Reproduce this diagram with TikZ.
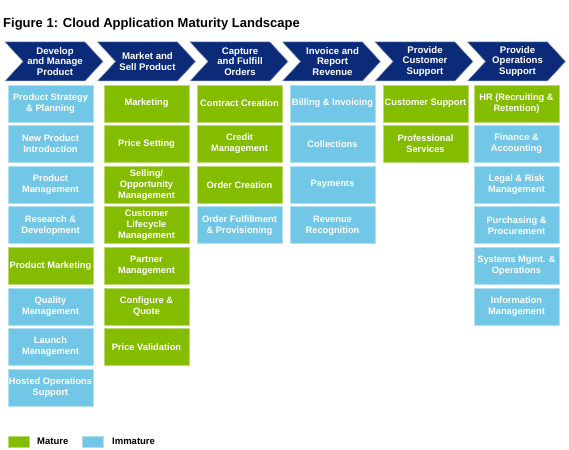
\documentclass[tikz,border=0pt]{standalone}
\usepackage{fontspec}
\setmainfont{Liberation Sans}
\usetikzlibrary{positioning}
\definecolor{navy}{HTML}{0B2A78}
\definecolor{mature}{HTML}{84BC00}
\definecolor{immature}{HTML}{72C7E7}
\newcommand{\phase}[3]{\fill[navy,draw=navy!45!white,line width=.5pt] (#2,42)--(#2+80,42)--(#2+98,61.5)--(#2+80,81)--(#2,81)--(#2+18,61.5)--cycle;
\node[phasetext] (#1) at (#2+50,61.5){#3};}

\begin{document}
\begin{tikzpicture}[x=1pt,y=-1pt,
  phasetext/.style={text=white,font=\fontsize{9.6}{10.6}\selectfont\bfseries,align=center,inner sep=0},
  cell/.style={anchor=north west,fill=#1,draw=#1!55!white,line width=.8pt,outer sep=0,inner sep=0,
    minimum width=85pt,minimum height=37pt,text=white,font=\fontsize{9.3}{11}\selectfont\bfseries,align=center},
  key/.style={fill=#1,draw=#1!55!white,line width=.6pt,minimum width=21pt,minimum height=11pt,inner sep=0,outer sep=0,anchor=north west},
  keytext/.style={font=\fontsize{9.5}{11}\selectfont\bfseries,inner sep=0}]
\useasboundingbox (0,0) rectangle (569,449);
\node[anchor=base west,inner sep=0,font=\fontsize{13}{15}\selectfont\bfseries] (title) at (3,28){Figure 1: Cloud Application Maturity Landscape};
% phases
\phase{ph1}{5}{Develop\\and Manage\\Product}
\phase{ph2}{97.5}{Market and\\Sell Product}
\phase{ph3}{190}{Capture\\and Fulfill\\Orders}
\phase{ph4}{282.5}{Invoice and\\Report\\Revenue}
\phase{ph5}{375}{Provide\\Customer\\Support}
\phase{ph6}{467.5}{Provide\\Operations\\Support}
% develop and manage product
\node[cell=immature] (dev1) at (8,85){Product Strategy\\\& Planning};
\node[cell=immature] (dev2) at (8,125.6){New Product\\Introduction};
\node[cell=immature] (dev3) at (8,166.2){Product\\Management};
\node[cell=immature] (dev4) at (8,206.8){Research \&\\Development};
\node[cell=mature] (dev5) at (8,247.4){Product Marketing};
\node[cell=immature] (dev6) at (8,288){Quality\\Management};
\node[cell=immature] (dev7) at (8,328.6){Launch\\Management};
\node[cell=immature] (dev8) at (8,369.2){Hosted Operations\\Support};
% market and sell
\node[cell=mature] (mkt1) at (104,85){Marketing};
\node[cell=mature] (mkt2) at (104,125.6){Price Setting};
\node[cell=mature] (mkt3) at (104,166.2){Selling/\\Opportunity\\Management};
\node[cell=mature] (mkt4) at (104,206.8){Customer\\Lifecycle\\Management};
\node[cell=mature] (mkt5) at (104,247.4){Partner\\Management};
\node[cell=mature] (mkt6) at (104,288){Configure \&\\Quote};
\node[cell=mature] (mkt7) at (104,328.6){Price Validation};
% capture and fulfill
\node[cell=mature] (ord1) at (197,85){Contract Creation};
\node[cell=mature] (ord2) at (197,125.6){Credit\\Management};
\node[cell=mature] (ord3) at (197,166.2){Order Creation};
\node[cell=immature] (ord4) at (197,206.8){Order Fulfillment\\\& Provisioning};
% invoice and report
\node[cell=immature] (inv1) at (290,85){Billing \& Invoicing};
\node[cell=immature] (inv2) at (290,125.6){Collections};
\node[cell=immature] (inv3) at (290,166.2){Payments};
\node[cell=immature] (inv4) at (290,206.8){Revenue\\Recognition};
% customer support
\node[cell=mature] (sup1) at (383,85){Customer Support};
\node[cell=mature] (sup2) at (383,125.6){Professional\\Services};
% operations support
\node[cell=mature] (ops1) at (474,85){HR (Recruiting \&\\Retention)};
\node[cell=immature] (ops2) at (474,125.6){Finance \&\\Accounting};
\node[cell=immature] (ops3) at (474,166.2){Legal \& Risk\\Management};
\node[cell=immature] (ops4) at (474,206.8){Purchasing \&\\Procurement};
\node[cell=immature] (ops5) at (474,247.4){Systems Mgmt. \&\\Operations};
\node[cell=immature] (ops6) at (474,288){Information\\Management};
% legend
\node[key=mature] (kmat) at (8,436){};
\node[keytext,right=8pt of kmat] (tmat){Mature};
\node[key=immature] (kimm) at (82,436){};
\node[keytext,right=9pt of kimm] (timm){Immature};
\end{tikzpicture}
\end{document}
